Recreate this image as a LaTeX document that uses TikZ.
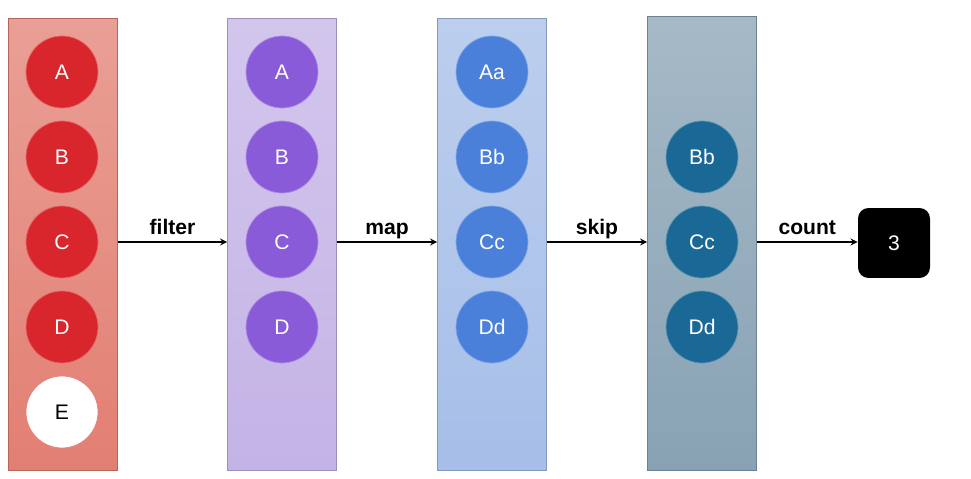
\documentclass[tikz,border=0pt]{standalone}
\usepackage{fontspec}
\setmainfont{Liberation Sans}
\usetikzlibrary{positioning}
\definecolor{colred}{HTML}{E27F72}
\definecolor{ballred}{HTML}{D8262C}
\definecolor{colpurple}{HTML}{C4B3E6}
\definecolor{ballpurple}{HTML}{8A5BD8}
\definecolor{colblue}{HTML}{A6BEE8}
\definecolor{ballblue}{HTML}{4A80DA}
\definecolor{colsteel}{HTML}{88A2B4}
\definecolor{ballsteel}{HTML}{1A6896}
\tikzset{
  column/.style={draw=#1!80!black, top color=#1!75!white, bottom color=#1, minimum width=2.18cm, inner sep=0pt},
  ball/.style={circle, fill=#1, draw=#1!70!white, minimum size=1.44cm, inner sep=0pt, text=white, font=\large},
  stream/.style={->, >=stealth, thick},
  streamlabel/.style={above, font=\large\bfseries, text height=1.6ex, text depth=0.1ex}
}
\begin{document}
\begin{tikzpicture}[x=0.02cm, y=-0.02cm]
    \useasboundingbox (0,0) rectangle (971,479);
    % columns
    \node[column=colred, minimum height=9.04cm] (red) at (63,244) {};
    \node[column=colpurple, minimum height=9.04cm] (purple) at (282,244) {};
    \node[column=colblue, minimum height=9.04cm] (blue) at (492,244) {};
    \node[column=colsteel, minimum height=9.08cm] (steel) at (702,243) {};
    % balls
    \foreach \t/\y in {A/72, B/157, C/242, D/327}
        \node[ball=ballred] (r\t) at (62,\y) {\t};
    \node[ball=white, draw=ballred!60, text=black] (rE) at (62,412) {E};
    \foreach \t/\y in {A/72, B/157, C/242, D/327}
        \node[ball=ballpurple] (p\t) at (282,\y) {\t};
    \foreach \t/\y in {Aa/72, Bb/157, Cc/242, Dd/327}
        \node[ball=ballblue] (b\t) at (492,\y) {\t};
    \foreach \t/\y in {Bb/157, Cc/242, Dd/327}
        \node[ball=ballsteel] (s\t) at (702,\y) {\t};
    % result
    \node[fill=black, rounded corners=6pt, minimum width=1.44cm, minimum height=1.4cm, text=white, font=\large] (res) at (894,243) {3};
    % steps
    \draw[stream] (red.east |- rC) -- node[streamlabel] {filter} (purple.west |- rC);
    \draw[stream] (purple.east |- rC) -- node[streamlabel] {map} (blue.west |- rC);
    \draw[stream] (blue.east |- rC) -- node[streamlabel] {skip} (steel.west |- rC);
    \draw[stream] (steel.east |- rC) -- node[streamlabel] {count} (res.west |- rC);
\end{tikzpicture}
\end{document}
